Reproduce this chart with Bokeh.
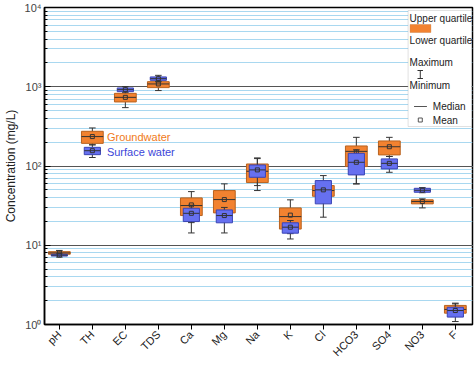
import numpy as np
from bokeh.plotting import figure
from bokeh.models import (Range1d, FixedTicker, Label, BoxAnnotation,
                          ColumnDataSource, CustomJSTickFormatter)
from bokeh.embed import file_html
from bokeh.resources import INLINE

# ---------------- data ----------------
categories = ["pH", "TH", "EC", "TDS", "Ca", "Mg", "Na", "K", "Cl",
              "HCO3", "SO4", "NO3", "F"]

gw_min  = [7.5, 185, 545, 895, 19.3, 24.0, 49.0, 14.0, 38.0, 59.5, 132, 29.6, 1.30]
gw_q1   = [7.7, 193, 643, 975, 23.7, 25.6, 61.8, 16.0, 41.5, 98.3, 138, 33.3, 1.39]
gw_med  = [8.0, 235, 735, 1085, 31.7, 37.7, 85.8, 23.0, 49.0, 153, 175, 35.6, 1.55]
gw_mean = [8.0, 235, 735, 1085, 32.3, 37.7, 84.0, 24.0, 49.0, 150, 175, 35.6, 1.55]
gw_q3   = [8.3, 274, 826, 1159, 39.6, 49.0, 106, 29.6, 56.6, 179, 207, 37.4, 1.74]
gw_max  = [8.6, 302, 880, 1230, 47.5, 59.5, 126.5, 37.4, 62.0, 230, 230, 38.5, 1.82]

sw_min  = [7.1, 128, 850, 1159, 14.3, 14.3, 56.6, 12.0, 22.6, 59.5, 83.3, 46.0, 1.09]
sw_q1   = [7.3, 139, 867, 1205, 19.9, 19.2, 72.0, 14.2, 33.3, 77.2, 91.9, 46.6, 1.24]
sw_med  = [7.5, 156, 919, 1265, 25.3, 23.7, 89.3, 16.9, 50.0, 111.4, 108, 49.4, 1.50]
sw_mean = [7.5, 156, 919, 1265, 25.3, 23.7, 89.3, 16.9, 50.0, 111.4, 108, 49.4, 1.50]
sw_q3   = [7.7, 172, 966, 1330, 29.3, 27.9, 103, 19.2, 65.5, 144.6, 122.9, 52.3, 1.65]
sw_max  = [7.8, 185, 1003, 1393, 32.0, 30.0, 124, 20.5, 75.7, 160, 132, 53.4, 1.86]

y_ticks = [1, 10, 100, 1000, 10000]

# ---------------- styles ----------------
ORANGE = "#F28230"
ORANGE_LINE = "#B8621E"
BLUE = "#6670F0"
BLUE_LINE = "#3A44B4"
DARK = "#333333"
FONT = "Liberation Sans"

W, H = 474, 366
BL, BR, BT, BB = 40, 2, 7, 42
X0, X1 = -0.45, 12.52
p = figure(width=W, height=H, y_axis_type="log",
           x_range=Range1d(X0, X1), y_range=Range1d(y_ticks[0], y_ticks[-1]),
           output_backend="svg", toolbar_location=None,
           min_border_left=BL, min_border_right=BR,
           min_border_top=BT, min_border_bottom=BB)
p.background_fill_color = "white"
p.border_fill_color = "white"
p.outline_line_color = "black"
p.outline_line_width = 1.5

x = list(range(len(categories)))


def draw(mn, q1, med, mean, q3, mx, fill, line, width):
    src = ColumnDataSource(dict(x=x, mn=mn, q1=q1, med=med, mean=mean, q3=q3, mx=mx,
                                xl=[v - width / 2 for v in x], xr=[v + width / 2 for v in x],
                                cl=[v - 0.1 for v in x], cr=[v + 0.1 for v in x]))
    p.segment(x0="x", y0="mn", x1="x", y1="mx", source=src, line_color=DARK, line_width=1)
    p.segment(x0="cl", y0="mx", x1="cr", y1="mx", source=src, line_color=DARK, line_width=1)
    p.segment(x0="cl", y0="mn", x1="cr", y1="mn", source=src, line_color=DARK, line_width=1)
    p.vbar(x="x", width=width, bottom="q1", top="q3", source=src,
           fill_color=fill, line_color=line, line_width=1)
    p.segment(x0="xl", y0="med", x1="xr", y1="med", source=src, line_color=DARK, line_width=1)
    p.scatter(x="x", y="mean", source=src, marker="square", size=4,
              fill_color=None, line_color=DARK, line_width=1)


draw(gw_min, gw_q1, gw_med, gw_mean, gw_q3, gw_max, ORANGE, ORANGE_LINE, 0.66)
draw(sw_min, sw_q1, sw_med, sw_mean, sw_q3, sw_max, BLUE, BLUE_LINE, 0.49)

# ---------------- axes & grid ----------------
p.xgrid.visible = False
p.ygrid.grid_line_color = "#555555"
p.ygrid.grid_line_width = 1
p.ygrid.minor_grid_line_color = "#A9D8F0"
p.ygrid.minor_grid_line_width = 1

p.xaxis.ticker = FixedTicker(ticks=x)
p.xaxis.formatter = CustomJSTickFormatter(args=dict(cats=categories),
                                          code="return cats[Math.round(tick)] || '';")
p.xaxis.major_label_orientation = np.pi / 4
p.xaxis.minor_tick_line_color = None
p.xaxis.major_tick_in = 0
p.xaxis.major_tick_out = 5
p.xaxis.major_label_text_font_size = "11px"
p.xaxis.major_label_text_color = "#222222"
p.xaxis.major_label_text_font = FONT
p.xaxis.major_label_standoff = 3

p.yaxis.formatter = CustomJSTickFormatter(code="""
const e = Math.round(Math.log10(tick));
const sup = '\u2070\u00b9\u00b2\u00b3\u2074\u2075\u2076\u2077\u2078\u2079';
return '10' + String(e).split('').map(c => sup[+c]).join('');
""")
p.yaxis.major_tick_in = 6
p.yaxis.major_tick_out = 0
p.yaxis.minor_tick_in = 3
p.yaxis.minor_tick_out = 0
p.yaxis.major_label_text_font_size = "11px"
p.yaxis.major_label_text_color = "#444444"
p.yaxis.major_label_text_font = FONT
p.yaxis.major_label_standoff = 3
p.yaxis.axis_label = "Concentration (mg/L)"
p.yaxis.axis_label_text_font_style = "normal"
p.yaxis.axis_label_text_font_size = "12px"
p.yaxis.axis_label_text_font = FONT
p.yaxis.axis_label_text_color = "#222222"
p.yaxis.axis_label_standoff = 4

for ax in (p.xaxis, p.yaxis):
    ax.axis_line_color = "black"
    ax.axis_line_width = 1.5
    ax.major_tick_line_color = "black"

# ---------------- annotations (legend) ----------------
# convert reference pixel positions to data coordinates
FL, FR = BL, W - BR
FT, FB = BT, H - BB


def dx(px):
    return X0 + (px - FL) / (FR - FL) * (X1 - X0)


def dy(py):
    return 10 ** (4 * (FB - py) / (FB - FT))


def lab(text, px, py, color="#222222", size="10px"):
    p.add_layout(Label(x=dx(px), y=dy(py), text=text, text_font=FONT,
                       text_font_size=size, text_color=color,
                       text_baseline="middle", text_align="left"))


# series labels next to TH
lab("Groundwater", 103, 136, color="#F07A20", size="11px")
lab("Surface water", 103, 151, color="#3C46D8", size="11px")

# key box
p.add_layout(BoxAnnotation(left=dx(407), right=dx(FR - 1), top=dy(10), bottom=dy(126),
                           fill_color="white", fill_alpha=1, line_color="#9A9A9A",
                           line_width=1))
p.add_layout(BoxAnnotation(left=dx(409), right=dx(430), top=dy(24), bottom=dy(32),
                           fill_color=ORANGE, fill_alpha=1, line_color=ORANGE_LINE,
                           line_width=1))
lab("Upper quartile", 408.5, 17.5)
lab("Lower quartile", 408.5, 39.5)
lab("Maximum", 408.5, 61.5)
lab("Minimum", 408.5, 85)
lab("Median", 432, 106)
lab("Mean", 432, 119.5)

r = p.segment(x0=[dx(419.3)], y0=[dy(70)], x1=[dx(419.3)], y1=[dy(78)],
              line_color=DARK, line_width=1)
r.level = "overlay"
r = p.segment(x0=[dx(416.5), dx(416.5)], y0=[dy(70), dy(78)],
              x1=[dx(422), dx(422)], y1=[dy(70), dy(78)], line_color=DARK, line_width=1)
r.level = "overlay"
r = p.segment(x0=[dx(413)], y0=[dy(106)], x1=[dx(426)], y1=[dy(106)],
              line_color="#555555", line_width=1)
r.level = "overlay"
r = p.scatter(x=[dx(419.3)], y=[dy(119.5)], marker="square", size=4,
              fill_color="white", line_color="#555555", line_width=1)
r.level = "overlay"

open("out.html", "w").write(file_html(p, INLINE))
